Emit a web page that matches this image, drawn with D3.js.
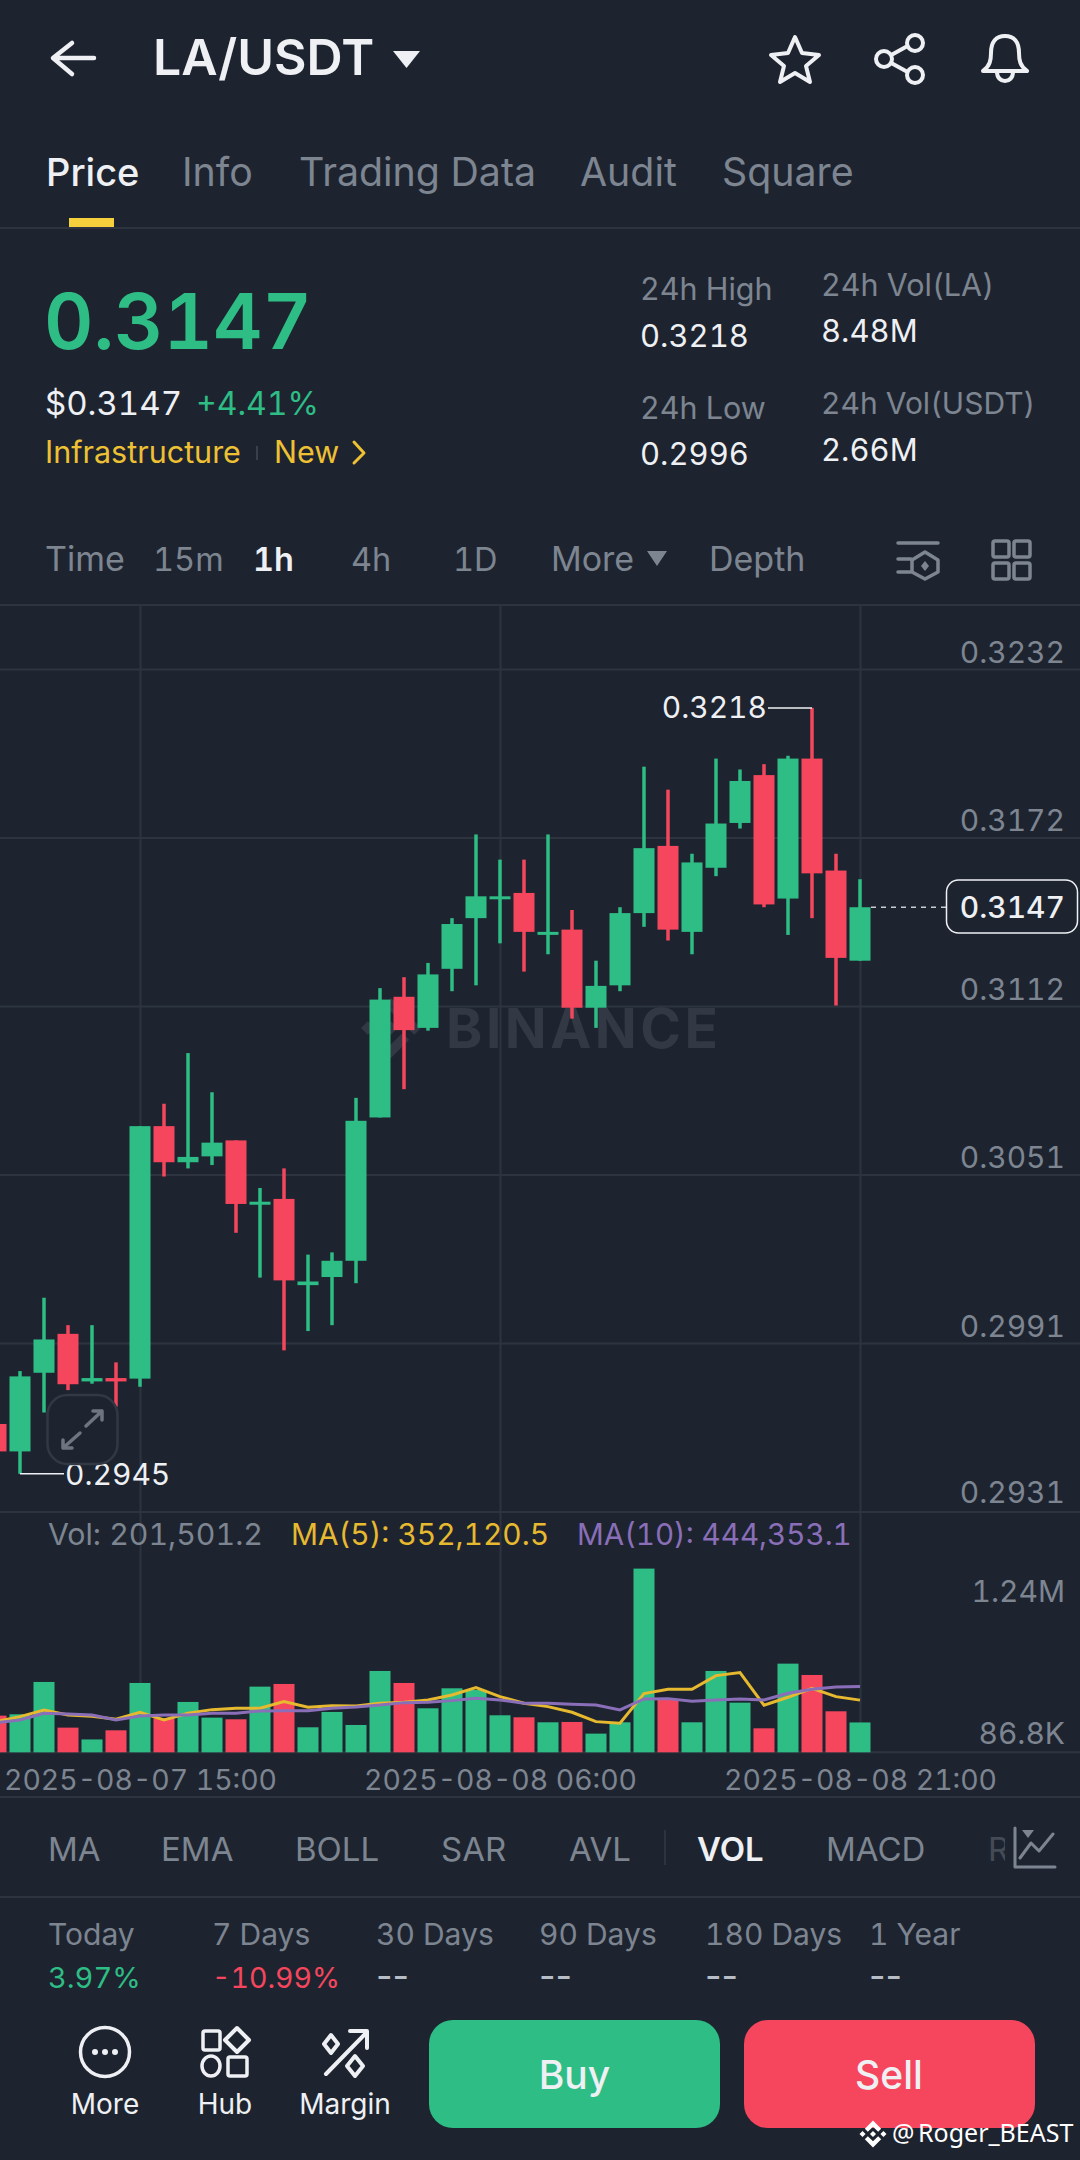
<!DOCTYPE html>
<html>
<head>
<meta charset="utf-8">
<title>LA/USDT</title>
<script src="https://cdn.jsdelivr.net/npm/d3@7"></script>
<style>
    html, body { margin: 0; padding: 0; background: #1d2430; }
    svg { display: block; font-family: Inter, "Open Sans", sans-serif; font-variant-numeric: tabular-nums; }
    .grid line { stroke: #2d3440; stroke-width: 2; }
    .grid path { display: none; }
    .grid text { fill: #7d8591; font-size: 30px; font-family: Inter, sans-serif; }
</style>
</head>
<body>
<div id="chart"></div>
<script>
// hourly candles, first one is off the left edge of the screen
const opens = [0.29623,0.29525,0.29806,0.29945,0.29775,0.29787,0.29785,0.30687,0.30558,0.30579,0.30636,0.30407,0.30427,0.30119,0.30148,0.30206,0.30718,0.31149,0.31038,0.31249,0.3143,0.31502,0.3152,0.31372,0.31389,0.3111,0.3119,0.31448,0.31688,0.31381,0.3161,0.3177,0.31941,0.315,0.32,0.316,0.31278];
const closes = [0.29525,0.29793,0.29925,0.29765,0.29787,0.29775,0.30687,0.30558,0.30577,0.30628,0.30409,0.30417,0.30136,0.30132,0.30206,0.30706,0.31139,0.3103,0.31229,0.31409,0.31508,0.31508,0.31381,0.31381,0.3111,0.31188,0.31448,0.3168,0.31389,0.31629,0.31768,0.3192,0.31479,0.32,0.3159,0.31288,0.31469];
const highs = [0.29654,0.29812,0.30074,0.29976,0.29976,0.29843,0.30687,0.30767,0.30948,0.30808,0.30636,0.30466,0.30536,0.30228,0.30236,0.30788,0.3118,0.31219,0.3127,0.3143,0.31729,0.31639,0.31639,0.31729,0.31459,0.31278,0.31469,0.31971,0.31889,0.3166,0.32,0.31961,0.3198,0.3201,0.32181,0.3166,0.31569];
const lows = [0.2951,0.29445,0.29664,0.29744,0.29767,0.29685,0.29756,0.30507,0.30536,0.30548,0.30306,0.30146,0.29886,0.29955,0.29976,0.30126,0.30718,0.30819,0.31028,0.31169,0.3119,0.3134,0.31239,0.31301,0.31071,0.31038,0.31169,0.31399,0.3135,0.31301,0.3158,0.3175,0.31469,0.3137,0.3143,0.31118,0.31278];
const volumes = [247500,256500,474800,166500,86800,148500,468000,229500,339800,234000,222800,443300,461300,168800,272300,184500,549000,468000,297000,432000,420800,249800,236300,202500,204800,126000,202500,1240000,357800,202500,549000,335000,162000,598500,522000,276800,201501.2];
const ma5 = [207000,240800,285800,252000,243000,222800,270000,218300,263300,288000,297000,297000,342000,303800,315000,312800,330800,337500,353300,387000,436500,375800,330800,308300,270000,207000,195800,396000,425300,425300,517500,537800,317300,371300,432000,375800,352120.5];
const ma10 = [200300,218300,263300,258800,252000,218300,245300,252000,252000,263300,263300,279000,281300,281300,297000,306000,319500,335300,337500,348800,364500,353300,330800,330800,324000,319500,285800,360000,362300,344300,353300,360000,353300,398300,425300,441000,444353.1];

const priceTicks = [0.3232, 0.31718, 0.31116, 0.30514, 0.29912, 0.2931];
const volumeTicks = [1240000, 86800];
const timeTicks = [new Date(Date.UTC(2025, 7, 7, 15)), new Date(Date.UTC(2025, 7, 8, 6)), new Date(Date.UTC(2025, 7, 8, 21))];

const tabs = ['Price', 'Info', 'Trading Data', 'Audit', 'Square'];
const intervals = ['Time', '15m', '1h', '4h', '1D', 'More', 'Depth'];
const indicators = ['MA', 'EMA', 'BOLL', 'SAR', 'AVL', 'VOL', 'MACD', 'R'];
const periods = ['Today', '7 Days', '30 Days', '90 Days', '180 Days', '1 Year'];
const periodChanges = ['3.97%', '-10.99%', '--', '--', '--', '--'];

const colors = {
    bg: '#1d2430',
    up: '#2ebd85',
    down: '#f6465d',
    grid: '#2d3440',
    muted: '#7d8591',
    white: '#eef0f3',
    yellow: '#eec033',
    ma5: '#e6b92f',
    ma10: '#8a6fb8'
};

const width = 1080, height = 2160;
const firstHour = new Date(Date.UTC(2025, 7, 7, 9));
const candles = opens.map((open, i) => ({
    time: d3.timeHour.offset(firstHour, i),
    open, close: closes[i], high: highs[i], low: lows[i],
    volume: volumes[i], ma5: ma5[i], ma10: ma10[i]
}));

const svg = d3.select('#chart').append('svg')
    .attr('width', width)
    .attr('height', height)
    .attr('viewBox', `0 0 ${width} ${height}`);

svg.append('rect').attr('width', width).attr('height', height).attr('fill', colors.bg);

// Scales
const xScale = d3.scaleUtc()
    .domain([timeTicks[0], timeTicks[2]])
    .range([140, 860]);
const priceScale = d3.scaleLinear().domain([0.2931, 0.3232]).range([1511.6, 669]);
const volumeScale = d3.scaleLinear().domain([0, 1240000]).range([1752.3, 1568.6]);

function label(parent, str, x, y, size, fill, weight = 400, anchor = 'start') {
    return parent.append('text')
        .attr('x', x).attr('y', y)
        .attr('font-size', size)
        .attr('font-weight', weight)
        .attr('fill', fill)
        .attr('text-anchor', anchor)
        .text(str);
}

function iconPath(parent, d, stroke = colors.white, sw = 4) {
    return parent.append('path')
        .attr('d', d)
        .attr('fill', 'none')
        .attr('stroke', stroke)
        .attr('stroke-width', sw)
        .attr('stroke-linejoin', 'round')
        .attr('stroke-linecap', 'round');
}

function hline(y) {
    svg.append('line').attr('x1', 0).attr('x2', width).attr('y1', y).attr('y2', y)
        .attr('stroke', colors.grid).attr('stroke-width', 2);
}

function binanceLogo(parent, cx, cy, size, fill) {
    const k = size / 32;
    parent.append('path')
        .attr('transform', `translate(${cx - size / 2},${cy - size / 2}) scale(${k})`)
        .attr('d', 'M9.9 13.4L16 7.3l6.1 6.1 3.6-3.6L16 0 6.3 9.7zM0 16l3.6-3.6L7.2 16l-3.6 3.6zM9.9 18.6L16 24.7l6.1-6.1 3.6 3.6L16 32 6.3 22.3zM24.8 16l3.6-3.6L32 16l-3.6 3.6zM19.6 16L16 12.4 12.4 16l3.6 3.6z')
        .attr('fill', fill);
}

// Header
iconPath(svg, 'M94,58H54M72,43L53,58L72,74', colors.white, 4.5);
label(svg, 'LA/USDT', 153, 75, 50, colors.white, 600);
svg.append('path').attr('d', 'M393,51H420L406.5,68Z').attr('fill', colors.white);
iconPath(svg, 'M795,37L802,53L819,55L806,66L810,82L795,73L780,82L784,66L771,55L788,53Z');
svg.append('g').call(g => {
    iconPath(g, 'M884,59L913,43M884,59L913,75');
    [[884, 59], [915, 43], [915, 75]].forEach(([cx, cy]) => {
        g.append('circle').attr('cx', cx).attr('cy', cy).attr('r', 8)
            .attr('fill', colors.bg).attr('stroke', colors.white).attr('stroke-width', 4);
    });
});
iconPath(svg, 'M983,71C990,66 991,60 991,53C991,42 996,36 1005,36C1014,36 1019,42 1019,53C1019,60 1020,66 1027,71Z M997,72C997,84 1013,84 1013,72');

// Tabs
const tabX = [46, 182, 299, 580, 722];
tabs.forEach((t, i) => label(svg, t, tabX[i], 186, i === 0 ? 38 : 39.3, i === 0 ? colors.white : colors.muted, i === 0 ? 500 : 400));
hline(228);
svg.append('rect').attr('x', 69).attr('y', 218).attr('width', 45).attr('height', 9).attr('fill', '#f5cf3c');

// Price summary
label(svg, '0.3147', 44, 349, 76.5, colors.up, 600);
label(svg, '$0.3147', 45, 415, 33, colors.white);
label(svg, '+4.41%', 196, 415, 32, colors.up);
label(svg, 'Infrastructure', 45, 463, 30.5, colors.yellow);
svg.append('line').attr('x1', 257).attr('x2', 257).attr('y1', 446).attr('y2', 460).attr('stroke', '#3a404a').attr('stroke-width', 2);
label(svg, 'New', 274, 463, 30.5, colors.yellow);
iconPath(svg, 'M354,442L364,453L354,463', colors.yellow, 3);

label(svg, '24h High', 640, 300, 30.5, colors.muted);
label(svg, '0.3218', 640, 347, 31, colors.white);
label(svg, '24h Vol(LA)', 821, 296, 30.5, colors.muted);
label(svg, '8.48M', 821, 342, 31, colors.white);
label(svg, '24h Low', 640, 419, 30.5, colors.muted);
label(svg, '0.2996', 640, 465, 31, colors.white);
label(svg, '24h Vol(USDT)', 821, 414, 30, colors.muted);
label(svg, '2.66M', 821, 461, 31, colors.white);

// Interval toolbar
const intervalX = [45, 153, 253, 351, 453, 551, 709];
const wordIntervals = ['Time', 'More', 'Depth'];
intervals.forEach((t, i) => label(svg, t, intervalX[i], 571, wordIntervals.includes(t) ? 34 : 32.5, t === '1h' ? colors.white : colors.muted, t === '1h' ? 600 : 400));
svg.append('path').attr('d', 'M647,551H667L657,566Z').attr('fill', colors.muted);
iconPath(svg, 'M898,543H938M898,559H911M898,572H911M925,552L938,560V572L925,579L912,572V560Z', colors.muted, 3.5);
svg.append('path').attr('d', 'M925,561L929,566L925,571L921,566Z').attr('fill', colors.muted);
[[993, 541], [1014, 541], [993, 563], [1014, 563]].forEach(([x, y]) => {
    svg.append('rect').attr('x', x).attr('y', y).attr('width', 16).attr('height', 16).attr('rx', 2)
        .attr('fill', 'none').attr('stroke', colors.muted).attr('stroke-width', 3.5);
});
hline(605);

// Watermark sits under the grid and candles
binanceLogo(svg, 391, 1028, 60, '#323945');
label(svg, 'BINANCE', 446, 1048, 55, '#323945', 700).attr('letter-spacing', 3.5);

// Axes and grid
svg.append('g')
    .attr('class', 'grid')
    .attr('transform', 'translate(0,1752.3)')
    .call(d3.axisBottom(xScale)
        .tickValues(timeTicks)
        .tickSize(-(1752.3 - 605))
        .tickFormat(d3.utcFormat('%Y-%m-%d %H:%M')))
    .call(g => g.selectAll('text').attr('y', 38).attr('dy', 0).style('font-size', '28.4px').attr('text-anchor', 'middle'));

svg.append('g')
    .attr('class', 'grid')
    .call(d3.axisRight(priceScale)
        .tickValues(priceTicks)
        .tickSize(width)
        .tickFormat(d3.format('.4f')))
    .call(g => g.selectAll('text').attr('x', 1065).attr('dy', (d, i) => i === 5 ? -9 : -7).attr('text-anchor', 'end'));

const volumeLabelOffset = [33, 4];
svg.append('g')
    .attr('class', 'grid')
    .call(d3.axisRight(volumeScale)
        .tickValues(volumeTicks)
        .tickSize(0)
        .tickFormat(d => d >= 1e6 ? `${d3.format('.2f')(d / 1e6)}M` : `${d3.format('.1f')(d / 1e3)}K`))
    .call(g => g.selectAll('text')
        .attr('x', 1065)
        .attr('dy', (d, i) => volumeLabelOffset[i])
        .attr('text-anchor', 'end'));
hline(1752.3);

// Candles
const candleWidth = 21;
const colorOf = d => d.close >= d.open ? colors.up : colors.down;

svg.append('g').selectAll('line').data(candles).enter().append('line')
    .attr('x1', d => xScale(d.time))
    .attr('x2', d => xScale(d.time))
    .attr('y1', d => priceScale(d.high))
    .attr('y2', d => priceScale(d.low))
    .attr('stroke', colorOf)
    .attr('stroke-width', 3.5);

svg.append('g').selectAll('rect').data(candles).enter().append('rect')
    .attr('x', d => xScale(d.time) - candleWidth / 2)
    .attr('y', d => priceScale(Math.max(d.open, d.close)))
    .attr('width', candleWidth)
    .attr('height', d => Math.max(3, Math.abs(priceScale(d.open) - priceScale(d.close))))
    .attr('fill', colorOf);

// Volume bars and moving averages
svg.append('g').selectAll('rect').data(candles).enter().append('rect')
    .attr('x', d => xScale(d.time) - candleWidth / 2)
    .attr('y', d => volumeScale(d.volume))
    .attr('width', candleWidth)
    .attr('height', d => volumeScale(0) - volumeScale(d.volume))
    .attr('fill', colorOf);

const maLine = key => d3.line().x(d => xScale(d.time)).y(d => volumeScale(d[key]));
svg.append('path').attr('d', maLine('ma5')(candles)).attr('fill', 'none').attr('stroke', colors.ma5).attr('stroke-width', 3);
svg.append('path').attr('d', maLine('ma10')(candles)).attr('fill', 'none').attr('stroke', colors.ma10).attr('stroke-width', 3);

// Volume legend
label(svg, 'Vol: 201,501.2', 48, 1545, 30.3, colors.muted);
label(svg, 'MA(5): 352,120.5', 291, 1545, 29.9, colors.ma5);
label(svg, 'MA(10): 444,353.1', 577, 1545, 29.6, colors.ma10);

// High / low markers
const hi = candles[34], lo = candles[1];
svg.append('line').attr('x1', 768).attr('x2', xScale(hi.time)).attr('y1', priceScale(hi.high)).attr('y2', priceScale(hi.high))
    .attr('stroke', colors.white).attr('stroke-width', 1.5);
label(svg, d3.format('.4f')(hi.high), 767, priceScale(hi.high) + 10, 30, colors.white, 400, 'end');
svg.append('line').attr('x1', xScale(lo.time)).attr('x2', 64).attr('y1', priceScale(lo.low)).attr('y2', priceScale(lo.low))
    .attr('stroke', colors.white).attr('stroke-width', 1.5);
label(svg, '0.2945', 65, priceScale(lo.low) + 11, 30, colors.white);

// Last price tag
const last = candles[candles.length - 1];
svg.append('line').attr('x1', 871).attr('x2', 946).attr('y1', priceScale(last.close)).attr('y2', priceScale(last.close))
    .attr('stroke', '#c9ccd1').attr('stroke-width', 1.5).attr('stroke-dasharray', '5 5');
svg.append('rect').attr('x', 946.5).attr('y', 880).attr('width', 131).attr('height', 53).attr('rx', 12)
    .attr('fill', colors.bg).attr('stroke', colors.white).attr('stroke-width', 1.5);
label(svg, d3.format('.4f')(last.close), 1065, priceScale(last.close) + 11, 30, colors.white, 500, 'end');

// Expand button over the chart
svg.append('rect').attr('x', 47.5).attr('y', 1395).attr('width', 70).attr('height', 69).attr('rx', 20)
    .attr('fill', colors.bg).attr('fill-opacity', 0.85).attr('stroke', '#323945').attr('stroke-width', 2.5);
iconPath(svg, 'M63,1448L80,1433M63,1440V1448H72M86,1426L102,1411M93,1411H102V1420', '#6e7580', 3.5);

// Indicator row
hline(1797);
const indicatorX = [48, 161, 295, 441, 569, 697, 826, 988];
indicators.forEach((t, i) => {
    const fill = t === 'VOL' ? colors.white : t === 'R' ? '#454b56' : colors.muted;
    label(svg, t, indicatorX[i], 1861, 33, fill, t === 'VOL' ? 600 : 400);
});
svg.append('line').attr('x1', 665).attr('x2', 665).attr('y1', 1830).attr('y2', 1865).attr('stroke', colors.grid).attr('stroke-width', 2);
svg.append('rect').attr('x', 1005).attr('y', 1826).attr('width', 8).attr('height', 42).attr('fill', colors.bg);
iconPath(svg, 'M1015,1828V1867H1055M1020,1858L1031,1843L1039,1851L1053,1834', colors.muted, 3);
svg.append('path').attr('d', 'M1022,1830H1034L1028,1838Z').attr('fill', colors.muted);
hline(1897);

// Period performance
const periodX = [48, 212, 376, 539, 705, 869];
periods.forEach((t, i) => {
    label(svg, t, periodX[i], 1945, 30, colors.muted);
    const v = periodChanges[i];
    const fill = i === 0 ? colors.up : i === 1 ? colors.down : '#b7bdc6';
    const text = label(svg, v, periodX[i], 1988, i === 1 ? 28.5 : 29, fill);
    if (v === '--') text.style('font-variant-numeric', 'normal').attr('font-size', 36).attr('y', 1989);
});

// Bottom bar
svg.append('circle').attr('cx', 105).attr('cy', 2052).attr('r', 24.5).attr('fill', 'none').attr('stroke', colors.white).attr('stroke-width', 3.5);
[95, 105, 115].forEach(cx => svg.append('circle').attr('cx', cx).attr('cy', 2052).attr('r', 3).attr('fill', colors.white));
svg.append('rect').attr('x', 203).attr('y', 2031).attr('width', 17).attr('height', 19).attr('rx', 2).attr('fill', 'none').attr('stroke', colors.white).attr('stroke-width', 3.5);
iconPath(svg, 'M237,2028L249,2040L237,2052L225,2040Z');
svg.append('ellipse').attr('cx', 211).attr('cy', 2066).attr('rx', 9).attr('ry', 10).attr('fill', 'none').attr('stroke', colors.white).attr('stroke-width', 3.5);
svg.append('rect').attr('x', 228).attr('y', 2057).attr('width', 19).attr('height', 19).attr('rx', 2).attr('fill', 'none').attr('stroke', colors.white).attr('stroke-width', 3.5);
iconPath(svg, 'M326,2074L366,2033M350,2031H367V2048M331,2035L338,2044L331,2053L324,2044Z M355,2056L363,2066L355,2076L347,2066Z');
label(svg, 'More', 105, 2114, 28, colors.white, 400, 'middle');
label(svg, 'Hub', 225, 2114, 28, colors.white, 400, 'middle');
label(svg, 'Margin', 345, 2114, 28, colors.white, 400, 'middle');

svg.append('rect').attr('x', 429).attr('y', 2020).attr('width', 291).attr('height', 108).attr('rx', 24).attr('fill', colors.up);
svg.append('rect').attr('x', 744).attr('y', 2020).attr('width', 291).attr('height', 108).attr('rx', 24).attr('fill', colors.down);
label(svg, 'Buy', 574.5, 2089, 39, colors.white, 500, 'middle');
label(svg, 'Sell', 889, 2089, 39, colors.white, 500, 'middle');

binanceLogo(svg, 873, 2134, 27, '#ffffff');
label(svg, '@ Roger_BEAST', 892, 2142, 25, '#ffffff').attr('font-family', '"Noto Sans", sans-serif').attr('word-spacing', -3);
</script>
</body>
</html>
